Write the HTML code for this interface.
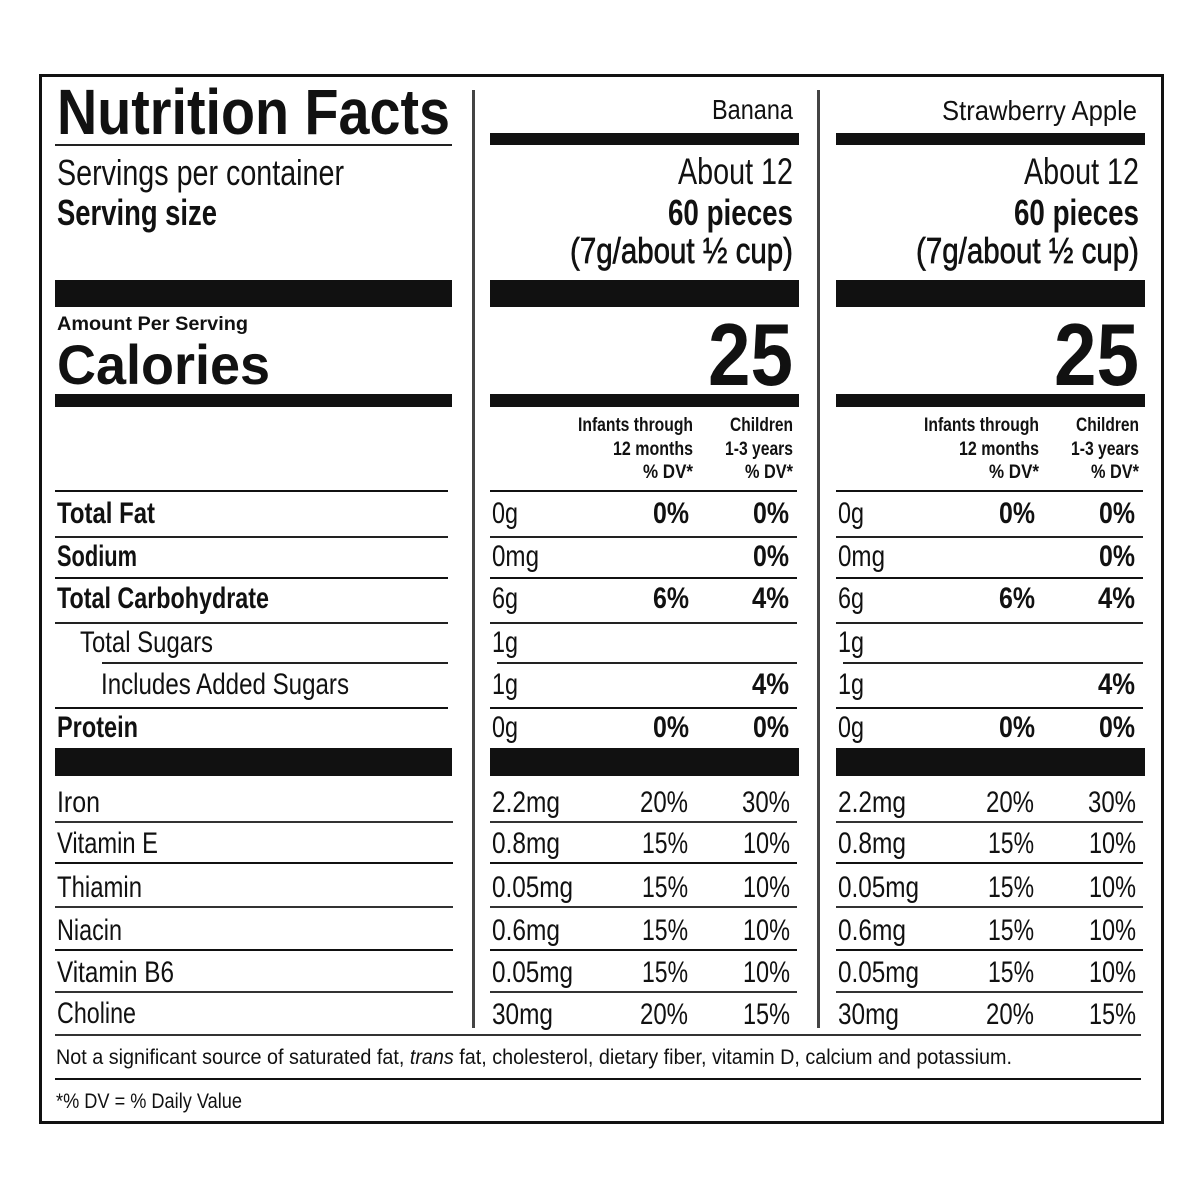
<!DOCTYPE html>
<html>
<head>
<meta charset="utf-8">
<style>
  html, body { margin:0; padding:0; background:#fff; }
  body { width:1200px; height:1200px; overflow:hidden; }
  svg { display:block; }
  text { font-family: "Liberation Sans", Arial, sans-serif; fill:#111; }
  .b { font-weight:bold; }
</style>
</head>
<body>
<svg width="1200" height="1200" viewBox="0 0 1200 1200" xmlns="http://www.w3.org/2000/svg">
  <rect x="0" y="0" width="1200" height="1200" fill="#fff"/>
  <!-- outer border -->
  <rect x="40.5" y="75.5" width="1122" height="1047" fill="none" stroke="#111" stroke-width="3"/>
  <!-- vertical dividers -->
  <rect x="472" y="90" width="3" height="938" fill="#444"/>
  <rect x="817" y="90" width="3" height="938" fill="#444"/>

  <!-- ============ LEFT COLUMN ============ -->
  <text class="b" x="57" y="134" font-size="64" textLength="393" lengthAdjust="spacingAndGlyphs">Nutrition Facts</text>
  <rect x="55" y="144" width="397" height="2" fill="#222"/>
  <text x="57" y="185" font-size="36" textLength="287" lengthAdjust="spacingAndGlyphs">Servings per container</text>
  <text class="b" x="57" y="225" font-size="36" textLength="160" lengthAdjust="spacingAndGlyphs">Serving size</text>
  <rect x="55" y="280" width="397" height="27" fill="#111"/>
  <text class="b" x="57" y="330" font-size="19" textLength="191" lengthAdjust="spacingAndGlyphs">Amount Per Serving</text>
  <text class="b" x="57" y="384" font-size="56" textLength="213" lengthAdjust="spacingAndGlyphs">Calories</text>
  <rect x="55" y="394" width="397" height="13" fill="#111"/>

  <rect x="55" y="490" width="393" height="2" fill="#111"/>
  <text class="b" x="57" y="523" font-size="30" textLength="98" lengthAdjust="spacingAndGlyphs">Total Fat</text>
  <rect x="55" y="536" width="393" height="2" fill="#222"/>
  <text class="b" x="57" y="566" font-size="30" textLength="80" lengthAdjust="spacingAndGlyphs">Sodium</text>
  <rect x="55" y="577" width="393" height="2" fill="#111"/>
  <text class="b" x="57" y="608" font-size="30" textLength="212" lengthAdjust="spacingAndGlyphs">Total Carbohydrate</text>
  <rect x="55" y="622" width="393" height="2" fill="#222"/>
  <text x="80" y="652" font-size="30" textLength="133" lengthAdjust="spacingAndGlyphs">Total Sugars</text>
  <rect x="102" y="662" width="346" height="2" fill="#222"/>
  <text x="101" y="694" font-size="30" textLength="248" lengthAdjust="spacingAndGlyphs">Includes Added Sugars</text>
  <rect x="55" y="707" width="393" height="2" fill="#111"/>
  <text class="b" x="57" y="737" font-size="30" textLength="81" lengthAdjust="spacingAndGlyphs">Protein</text>
  <rect x="55" y="748" width="397" height="28" fill="#111"/>

  <text x="57" y="812" font-size="30" textLength="43" lengthAdjust="spacingAndGlyphs">Iron</text>
  <rect x="55" y="821" width="398" height="2" fill="#333"/>
  <text x="57" y="853" font-size="30" textLength="101" lengthAdjust="spacingAndGlyphs">Vitamin E</text>
  <rect x="55" y="862" width="398" height="2" fill="#111"/>
  <text x="57" y="897" font-size="30" textLength="85" lengthAdjust="spacingAndGlyphs">Thiamin</text>
  <rect x="55" y="906" width="398" height="2" fill="#333"/>
  <text x="57" y="940" font-size="30" textLength="65" lengthAdjust="spacingAndGlyphs">Niacin</text>
  <rect x="55" y="949" width="398" height="2" fill="#111"/>
  <text x="57" y="982" font-size="30" textLength="117" lengthAdjust="spacingAndGlyphs">Vitamin B6</text>
  <rect x="55" y="991" width="398" height="2" fill="#333"/>
  <text x="57" y="1023" font-size="30" textLength="79" lengthAdjust="spacingAndGlyphs">Choline</text>

  <!-- ============ COLUMN 2 (Banana) ============ -->
  <g id="c2">
    <text x="712" y="119" font-size="28" textLength="81" lengthAdjust="spacingAndGlyphs">Banana</text>
    <rect x="490" y="133" width="309" height="12" fill="#111"/>
    <text x="678" y="184" font-size="37" textLength="115" lengthAdjust="spacingAndGlyphs">About 12</text>
    <text class="b" x="668" y="225" font-size="36" textLength="125" lengthAdjust="spacingAndGlyphs">60 pieces</text>
    <text x="570" y="263" font-size="36" stroke="#111" stroke-width="0.7" textLength="223" lengthAdjust="spacingAndGlyphs">(7g/about ½ cup)</text>
    <rect x="490" y="280" width="309" height="27" fill="#111"/>
    <text class="b" x="708" y="385" font-size="88" textLength="85" lengthAdjust="spacingAndGlyphs">25</text>
    <rect x="490" y="394" width="309" height="13" fill="#111"/>

    <text class="b" x="578" y="431" font-size="19" textLength="115" lengthAdjust="spacingAndGlyphs">Infants through</text>
    <text class="b" x="613" y="455" font-size="19" textLength="80" lengthAdjust="spacingAndGlyphs">12 months</text>
    <text class="b" x="643" y="478" font-size="19" textLength="50" lengthAdjust="spacingAndGlyphs">% DV*</text>
    <text class="b" x="730" y="431" font-size="19" textLength="63" lengthAdjust="spacingAndGlyphs">Children</text>
    <text class="b" x="725" y="455" font-size="19" textLength="68" lengthAdjust="spacingAndGlyphs">1-3 years</text>
    <text class="b" x="745" y="478" font-size="19" textLength="48" lengthAdjust="spacingAndGlyphs">% DV*</text>

    <rect x="490" y="490" width="307" height="2" fill="#111"/>
    <text x="492" y="523" font-size="30" textLength="26" lengthAdjust="spacingAndGlyphs">0g</text>
    <text class="b" x="653" y="523" font-size="30" textLength="36" lengthAdjust="spacingAndGlyphs">0%</text>
    <text class="b" x="753" y="523" font-size="30" textLength="36" lengthAdjust="spacingAndGlyphs">0%</text>
    <rect x="490" y="536" width="307" height="2" fill="#222"/>
    <text x="492" y="566" font-size="30" textLength="47" lengthAdjust="spacingAndGlyphs">0mg</text>
    <text class="b" x="753" y="566" font-size="30" textLength="36" lengthAdjust="spacingAndGlyphs">0%</text>
    <rect x="490" y="577" width="307" height="2" fill="#111"/>
    <text x="492" y="608" font-size="30" textLength="26" lengthAdjust="spacingAndGlyphs">6g</text>
    <text class="b" x="653" y="608" font-size="30" textLength="36" lengthAdjust="spacingAndGlyphs">6%</text>
    <text class="b" x="752" y="608" font-size="30" textLength="37" lengthAdjust="spacingAndGlyphs">4%</text>
    <rect x="490" y="622" width="307" height="2" fill="#222"/>
    <text x="492" y="652" font-size="30" textLength="26" lengthAdjust="spacingAndGlyphs">1g</text>
    <rect x="497" y="662" width="300" height="2" fill="#222"/>
    <text x="492" y="694" font-size="30" textLength="26" lengthAdjust="spacingAndGlyphs">1g</text>
    <text class="b" x="752" y="694" font-size="30" textLength="37" lengthAdjust="spacingAndGlyphs">4%</text>
    <rect x="490" y="707" width="307" height="2" fill="#111"/>
    <text x="492" y="737" font-size="30" textLength="26" lengthAdjust="spacingAndGlyphs">0g</text>
    <text class="b" x="653" y="737" font-size="30" textLength="36" lengthAdjust="spacingAndGlyphs">0%</text>
    <text class="b" x="753" y="737" font-size="30" textLength="36" lengthAdjust="spacingAndGlyphs">0%</text>
    <rect x="490" y="748" width="309" height="28" fill="#111"/>

    <text x="492" y="812" font-size="30" textLength="68" lengthAdjust="spacingAndGlyphs">2.2mg</text>
    <text x="640" y="812" font-size="30" textLength="48" lengthAdjust="spacingAndGlyphs">20%</text>
    <text x="742" y="812" font-size="30" textLength="48" lengthAdjust="spacingAndGlyphs">30%</text>
    <rect x="490" y="821" width="307" height="2" fill="#333"/>
    <text x="492" y="853" font-size="30" textLength="68" lengthAdjust="spacingAndGlyphs">0.8mg</text>
    <text x="642" y="853" font-size="30" textLength="46" lengthAdjust="spacingAndGlyphs">15%</text>
    <text x="743" y="853" font-size="30" textLength="47" lengthAdjust="spacingAndGlyphs">10%</text>
    <rect x="490" y="862" width="307" height="2" fill="#111"/>
    <text x="492" y="897" font-size="30" textLength="81" lengthAdjust="spacingAndGlyphs">0.05mg</text>
    <text x="642" y="897" font-size="30" textLength="46" lengthAdjust="spacingAndGlyphs">15%</text>
    <text x="743" y="897" font-size="30" textLength="47" lengthAdjust="spacingAndGlyphs">10%</text>
    <rect x="490" y="906" width="307" height="2" fill="#333"/>
    <text x="492" y="940" font-size="30" textLength="68" lengthAdjust="spacingAndGlyphs">0.6mg</text>
    <text x="642" y="940" font-size="30" textLength="46" lengthAdjust="spacingAndGlyphs">15%</text>
    <text x="743" y="940" font-size="30" textLength="47" lengthAdjust="spacingAndGlyphs">10%</text>
    <rect x="490" y="949" width="307" height="2" fill="#111"/>
    <text x="492" y="982" font-size="30" textLength="81" lengthAdjust="spacingAndGlyphs">0.05mg</text>
    <text x="642" y="982" font-size="30" textLength="46" lengthAdjust="spacingAndGlyphs">15%</text>
    <text x="743" y="982" font-size="30" textLength="47" lengthAdjust="spacingAndGlyphs">10%</text>
    <rect x="490" y="991" width="307" height="2" fill="#333"/>
    <text x="492" y="1024" font-size="30" textLength="61" lengthAdjust="spacingAndGlyphs">30mg</text>
    <text x="640" y="1024" font-size="30" textLength="48" lengthAdjust="spacingAndGlyphs">20%</text>
    <text x="743" y="1024" font-size="30" textLength="47" lengthAdjust="spacingAndGlyphs">15%</text>
  </g>

  <!-- ============ COLUMN 3 (Strawberry Apple) ============ -->
  <g transform="translate(346,0)">
    <rect x="490" y="133" width="309" height="12" fill="#111"/>
    <text x="678" y="184" font-size="37" textLength="115" lengthAdjust="spacingAndGlyphs">About 12</text>
    <text class="b" x="668" y="225" font-size="36" textLength="125" lengthAdjust="spacingAndGlyphs">60 pieces</text>
    <text x="570" y="263" font-size="36" stroke="#111" stroke-width="0.7" textLength="223" lengthAdjust="spacingAndGlyphs">(7g/about ½ cup)</text>
    <rect x="490" y="280" width="309" height="27" fill="#111"/>
    <text class="b" x="708" y="385" font-size="88" textLength="85" lengthAdjust="spacingAndGlyphs">25</text>
    <rect x="490" y="394" width="309" height="13" fill="#111"/>

    <text class="b" x="578" y="431" font-size="19" textLength="115" lengthAdjust="spacingAndGlyphs">Infants through</text>
    <text class="b" x="613" y="455" font-size="19" textLength="80" lengthAdjust="spacingAndGlyphs">12 months</text>
    <text class="b" x="643" y="478" font-size="19" textLength="50" lengthAdjust="spacingAndGlyphs">% DV*</text>
    <text class="b" x="730" y="431" font-size="19" textLength="63" lengthAdjust="spacingAndGlyphs">Children</text>
    <text class="b" x="725" y="455" font-size="19" textLength="68" lengthAdjust="spacingAndGlyphs">1-3 years</text>
    <text class="b" x="745" y="478" font-size="19" textLength="48" lengthAdjust="spacingAndGlyphs">% DV*</text>

    <rect x="490" y="490" width="307" height="2" fill="#111"/>
    <text x="492" y="523" font-size="30" textLength="26" lengthAdjust="spacingAndGlyphs">0g</text>
    <text class="b" x="653" y="523" font-size="30" textLength="36" lengthAdjust="spacingAndGlyphs">0%</text>
    <text class="b" x="753" y="523" font-size="30" textLength="36" lengthAdjust="spacingAndGlyphs">0%</text>
    <rect x="490" y="536" width="307" height="2" fill="#222"/>
    <text x="492" y="566" font-size="30" textLength="47" lengthAdjust="spacingAndGlyphs">0mg</text>
    <text class="b" x="753" y="566" font-size="30" textLength="36" lengthAdjust="spacingAndGlyphs">0%</text>
    <rect x="490" y="577" width="307" height="2" fill="#111"/>
    <text x="492" y="608" font-size="30" textLength="26" lengthAdjust="spacingAndGlyphs">6g</text>
    <text class="b" x="653" y="608" font-size="30" textLength="36" lengthAdjust="spacingAndGlyphs">6%</text>
    <text class="b" x="752" y="608" font-size="30" textLength="37" lengthAdjust="spacingAndGlyphs">4%</text>
    <rect x="490" y="622" width="307" height="2" fill="#222"/>
    <text x="492" y="652" font-size="30" textLength="26" lengthAdjust="spacingAndGlyphs">1g</text>
    <rect x="497" y="662" width="300" height="2" fill="#222"/>
    <text x="492" y="694" font-size="30" textLength="26" lengthAdjust="spacingAndGlyphs">1g</text>
    <text class="b" x="752" y="694" font-size="30" textLength="37" lengthAdjust="spacingAndGlyphs">4%</text>
    <rect x="490" y="707" width="307" height="2" fill="#111"/>
    <text x="492" y="737" font-size="30" textLength="26" lengthAdjust="spacingAndGlyphs">0g</text>
    <text class="b" x="653" y="737" font-size="30" textLength="36" lengthAdjust="spacingAndGlyphs">0%</text>
    <text class="b" x="753" y="737" font-size="30" textLength="36" lengthAdjust="spacingAndGlyphs">0%</text>
    <rect x="490" y="748" width="309" height="28" fill="#111"/>

    <text x="492" y="812" font-size="30" textLength="68" lengthAdjust="spacingAndGlyphs">2.2mg</text>
    <text x="640" y="812" font-size="30" textLength="48" lengthAdjust="spacingAndGlyphs">20%</text>
    <text x="742" y="812" font-size="30" textLength="48" lengthAdjust="spacingAndGlyphs">30%</text>
    <rect x="490" y="821" width="307" height="2" fill="#333"/>
    <text x="492" y="853" font-size="30" textLength="68" lengthAdjust="spacingAndGlyphs">0.8mg</text>
    <text x="642" y="853" font-size="30" textLength="46" lengthAdjust="spacingAndGlyphs">15%</text>
    <text x="743" y="853" font-size="30" textLength="47" lengthAdjust="spacingAndGlyphs">10%</text>
    <rect x="490" y="862" width="307" height="2" fill="#111"/>
    <text x="492" y="897" font-size="30" textLength="81" lengthAdjust="spacingAndGlyphs">0.05mg</text>
    <text x="642" y="897" font-size="30" textLength="46" lengthAdjust="spacingAndGlyphs">15%</text>
    <text x="743" y="897" font-size="30" textLength="47" lengthAdjust="spacingAndGlyphs">10%</text>
    <rect x="490" y="906" width="307" height="2" fill="#333"/>
    <text x="492" y="940" font-size="30" textLength="68" lengthAdjust="spacingAndGlyphs">0.6mg</text>
    <text x="642" y="940" font-size="30" textLength="46" lengthAdjust="spacingAndGlyphs">15%</text>
    <text x="743" y="940" font-size="30" textLength="47" lengthAdjust="spacingAndGlyphs">10%</text>
    <rect x="490" y="949" width="307" height="2" fill="#111"/>
    <text x="492" y="982" font-size="30" textLength="81" lengthAdjust="spacingAndGlyphs">0.05mg</text>
    <text x="642" y="982" font-size="30" textLength="46" lengthAdjust="spacingAndGlyphs">15%</text>
    <text x="743" y="982" font-size="30" textLength="47" lengthAdjust="spacingAndGlyphs">10%</text>
    <rect x="490" y="991" width="307" height="2" fill="#333"/>
    <text x="492" y="1024" font-size="30" textLength="61" lengthAdjust="spacingAndGlyphs">30mg</text>
    <text x="640" y="1024" font-size="30" textLength="48" lengthAdjust="spacingAndGlyphs">20%</text>
    <text x="743" y="1024" font-size="30" textLength="47" lengthAdjust="spacingAndGlyphs">15%</text>
  </g>
  <text x="942" y="120" font-size="28" textLength="195" lengthAdjust="spacingAndGlyphs">Strawberry Apple</text>

  <!-- ============ FOOTER ============ -->
  <rect x="55" y="1034" width="1086" height="2" fill="#333"/>
  <text x="56" y="1064" font-size="21" textLength="956" lengthAdjust="spacingAndGlyphs">Not a significant source of saturated fat, <tspan font-style="italic">trans</tspan> fat, cholesterol, dietary fiber, vitamin D, calcium and potassium.</text>
  <rect x="55" y="1078" width="1086" height="2" fill="#111"/>
  <text x="56" y="1108" font-size="21" textLength="186" lengthAdjust="spacingAndGlyphs">*% DV = % Daily Value</text>
</svg>
</body>
</html>
